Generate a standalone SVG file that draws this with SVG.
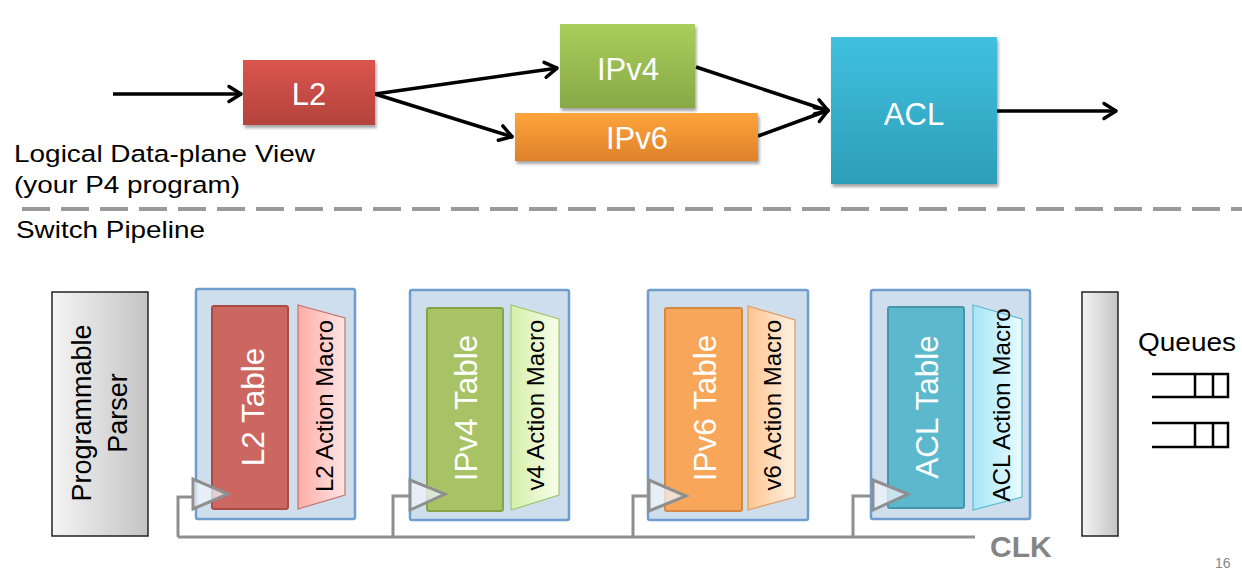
<svg xmlns="http://www.w3.org/2000/svg" width="1242" height="574" viewBox="0 0 1242 574">
  <style>
    .lbl { font-family: "Liberation Sans", Arial, sans-serif; fill: #000; }
    .wt { font-family: "Liberation Sans", Arial, sans-serif; fill: #fff; text-anchor: middle; }
    .blk { font-family: "Liberation Sans", Arial, sans-serif; fill: #000; text-anchor: middle; }
    .conn { stroke: #000; stroke-width: 3.5; fill: none; marker-end: url(#arr); }
    .stage { fill: #cfdeed; stroke: #6f9dd0; stroke-width: 2.5; }
    .clkw { stroke: #8f8f8f; stroke-width: 3; fill: none; }
    .tri { stroke: #8f8f8f; stroke-width: 3; fill: #eef3fa; fill-opacity: 0.75; stroke-linejoin: miter; }
    .q { stroke: #000; stroke-width: 2.5; fill: none; }
  </style>
  <defs>
    <marker id="arr" markerUnits="userSpaceOnUse" markerWidth="24" markerHeight="24" viewBox="-18 -12 24 24" refX="0" refY="0" orient="auto">
      <path d="M-13,-7.5 L-1,0 L-13,7.5" fill="none" stroke="#000" stroke-width="3.5" stroke-linecap="round" stroke-linejoin="round"/>
    </marker>
    <filter id="sh" x="-10%" y="-10%" width="125%" height="130%">
      <feDropShadow dx="1.5" dy="3" stdDeviation="1.8" flood-color="#000" flood-opacity="0.35"/>
    </filter>
    <linearGradient id="gL2" x1="0" y1="0" x2="0" y2="1"><stop offset="0" stop-color="#da554d"/><stop offset="1" stop-color="#b4433d"/></linearGradient>
    <linearGradient id="gV4" x1="0" y1="0" x2="0" y2="1"><stop offset="0" stop-color="#aace5c"/><stop offset="1" stop-color="#88a946"/></linearGradient>
    <linearGradient id="gV6" x1="0" y1="0" x2="0" y2="1"><stop offset="0" stop-color="#fea43b"/><stop offset="1" stop-color="#de812b"/></linearGradient>
    <linearGradient id="gACL" x1="0" y1="0" x2="0" y2="1"><stop offset="0" stop-color="#40c1df"/><stop offset="1" stop-color="#2d9eb9"/></linearGradient>
    <linearGradient id="gGray" x1="0" y1="0" x2="1" y2="0"><stop offset="0" stop-color="#f4f4f4"/><stop offset="1" stop-color="#c4c4c4"/></linearGradient>
    <linearGradient id="mL2" x1="0" y1="0" x2="1" y2="0"><stop offset="0" stop-color="#ffaca6"/><stop offset="1" stop-color="#ffe6e4"/></linearGradient>
    <linearGradient id="mV4" x1="0" y1="0" x2="1" y2="0"><stop offset="0" stop-color="#d6efaa"/><stop offset="1" stop-color="#f7fdea"/></linearGradient>
    <linearGradient id="mV6" x1="0" y1="0" x2="1" y2="0"><stop offset="0" stop-color="#ffc590"/><stop offset="1" stop-color="#fff1e3"/></linearGradient>
    <linearGradient id="mACL" x1="0" y1="0" x2="1" y2="0"><stop offset="0" stop-color="#a6e7f8"/><stop offset="1" stop-color="#e8fbff"/></linearGradient>
  </defs>

  <rect x="0" y="0" width="1242" height="574" fill="#fff"/>

  <!-- top logical view -->
  <g id="connectors">
    <line class="conn" x1="113" y1="94" x2="242" y2="94"/>
    <line class="conn" x1="375" y1="94" x2="558" y2="68"/>
    <line class="conn" x1="375" y1="94" x2="513" y2="137"/>
    <line class="conn" x1="696" y1="67" x2="829" y2="111"/>
    <line class="conn" x1="758" y1="136" x2="829" y2="110"/>
    <line class="conn" x1="997" y1="111" x2="1117" y2="111"/>
  </g>

  <g id="node-l2">
    <rect x="243" y="60" width="132" height="65" fill="url(#gL2)" filter="url(#sh)"/>
    <text class="wt" x="309" y="105" font-size="31">L2</text>
  </g>
  <g id="node-ipv4">
    <rect x="560" y="24" width="135" height="84" fill="url(#gV4)" filter="url(#sh)"/>
    <text class="wt" x="628" y="80" font-size="31">IPv4</text>
  </g>
  <g id="node-ipv6">
    <rect x="515" y="113" width="243" height="48" fill="url(#gV6)" filter="url(#sh)"/>
    <text class="wt" x="637" y="149" font-size="31">IPv6</text>
  </g>
  <g id="node-acl">
    <rect x="831" y="37" width="166" height="147" fill="url(#gACL)" filter="url(#sh)"/>
    <text class="wt" x="914" y="125" font-size="31">ACL</text>
  </g>

  <g id="labels">
    <text class="lbl" x="14" y="162" font-size="24.5" textLength="301" lengthAdjust="spacingAndGlyphs">Logical Data-plane View</text>
    <text class="lbl" x="14" y="193" font-size="24.5" textLength="226" lengthAdjust="spacingAndGlyphs">(your P4 program)</text>
    <text class="lbl" x="16" y="238" font-size="24.5" textLength="189" lengthAdjust="spacingAndGlyphs">Switch Pipeline</text>
  </g>

  <line id="divider" x1="22" y1="209" x2="1242" y2="209" stroke="#9a9a9a" stroke-width="4" stroke-dasharray="28 11"/>

  <!-- switch pipeline -->
  <g id="clock-wires">
    <line class="clkw" x1="178" y1="537" x2="975" y2="537"/>
    <path class="clkw" d="M178,537 V497 H193"/>
    <path class="clkw" d="M393,537 V496 H410"/>
    <path class="clkw" d="M633,537 V496 H649"/>
    <path class="clkw" d="M853,537 V496 H873"/>
  </g>

  <g id="parser">
    <rect x="52" y="292" width="96" height="244" fill="url(#gGray)" stroke="#222" stroke-width="1.5"/>
    <text class="blk" font-size="27" transform="translate(82,413) rotate(-90)" dy="0.35em">Programmable</text>
    <text class="blk" font-size="27" transform="translate(118,413) rotate(-90)" dy="0.35em">Parser</text>
  </g>

  <g id="stage-l2">
    <rect class="stage" x="196" y="289" width="159" height="230" rx="2"/>
    <rect x="212" y="306" width="76" height="203" rx="2" fill="#cc6661" stroke="#ab4b46" stroke-width="2"/>
    <polygon points="298,305 345,318 345,495 298,509" fill="url(#mL2)" stroke="#c4706b" stroke-width="1.2"/>
    <text class="wt" font-size="31.5" transform="translate(253,407) rotate(-90)" dy="0.35em">L2 Table</text>
    <text class="blk" font-size="24" transform="translate(325,406) rotate(-90)" dy="0.35em">L2 Action Macro</text>
    <polygon class="tri" points="193,479 193,509 228,494"/>
  </g>

  <g id="stage-ipv4">
    <rect class="stage" x="410" y="290" width="159" height="230" rx="2"/>
    <rect x="427" y="308" width="76" height="203" rx="2" fill="#a7c366" stroke="#86a348" stroke-width="2"/>
    <polygon points="511,305 559,319 559,495 511,510" fill="url(#mV4)" stroke="#9fc56c" stroke-width="1.2"/>
    <text class="wt" font-size="31.5" transform="translate(466,408) rotate(-90)" dy="0.35em">IPv4 Table</text>
    <text class="blk" font-size="24" transform="translate(536,405) rotate(-90)" dy="0.35em">v4 Action Macro</text>
    <polygon class="tri" points="410,480 410,510 445,494"/>
  </g>

  <g id="stage-ipv6">
    <rect class="stage" x="648" y="290" width="160" height="230" rx="2"/>
    <rect x="665" y="308" width="77" height="203" rx="2" fill="#f8a65a" stroke="#d68943" stroke-width="2"/>
    <polygon points="748,306 795,320 795,497 748,510" fill="url(#mV6)" stroke="#e09b62" stroke-width="1.2"/>
    <text class="wt" font-size="31.5" transform="translate(705,408) rotate(-90)" dy="0.35em">IPv6 Table</text>
    <text class="blk" font-size="24" transform="translate(773,405) rotate(-90)" dy="0.35em">v6 Action Macro</text>
    <polygon class="tri" points="649,480 649,511 686,496"/>
  </g>

  <g id="stage-acl">
    <rect class="stage" x="871" y="290" width="159" height="229" rx="2"/>
    <rect x="888" y="307" width="76" height="201" rx="2" fill="#5bb8cd" stroke="#4596ab" stroke-width="2"/>
    <polygon points="973,305 1022,319 1022,497 973,510" fill="url(#mACL)" stroke="#5cb9d1" stroke-width="1.2"/>
    <text class="wt" font-size="31.5" transform="translate(927,407) rotate(-90)" dy="0.35em">ACL Table</text>
    <text class="blk" font-size="24.3" transform="translate(1001,405) rotate(-90)" dy="0.35em">ACL Action Macro</text>
    <polygon class="tri" points="873,480 873,510 908,494"/>
  </g>

  <g id="deparser">
    <rect x="1082" y="292" width="36" height="244" fill="url(#gGray)" stroke="#222" stroke-width="1.5"/>
  </g>

  <g id="queues">
    <text class="lbl" x="1138" y="351" font-size="25" textLength="98" lengthAdjust="spacingAndGlyphs">Queues</text>
    <path class="q" d="M1152,374 H1228 V397 H1152 M1195,374 V397 M1213,374 V397"/>
    <path class="q" d="M1152,423 H1228 V447 H1152 M1195,423 V447 M1213,423 V447"/>
  </g>

  <text id="clk" x="990" y="557" font-family="Liberation Sans, Arial, sans-serif" font-weight="bold" font-size="30" fill="#858585">CLK</text>
  <text id="page" x="1215" y="568" font-family="Liberation Sans, Arial, sans-serif" font-size="14" fill="#888">16</text>
</svg>
